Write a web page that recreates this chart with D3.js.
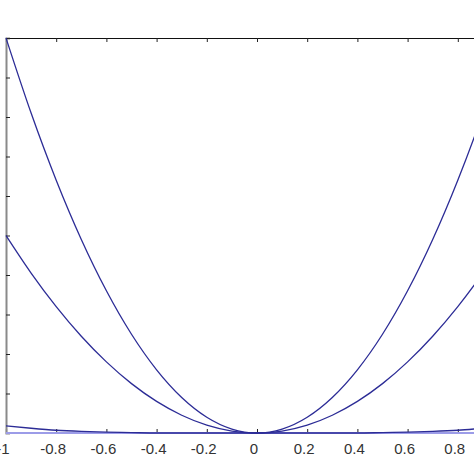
<!DOCTYPE html>
<html>
<head>
<meta charset="utf-8">
<script src="https://cdn.jsdelivr.net/npm/d3@7"></script>
<style>
  body { margin: 0; background: #fff; }
  svg { display: block; }
  .tick-label { font-family: "Liberation Sans", Arial, sans-serif; font-size: 15px; fill: #333; }
</style>
</head>
<body>
<svg id="chart" width="474" height="474"></svg>
<script>
// Data (x from -1 to 1 in steps of 0.1)
const xs = [-1, -0.9, -0.8, -0.7, -0.6, -0.5, -0.4, -0.3, -0.2, -0.1, 0,
            0.1, 0.2, 0.3, 0.4, 0.5, 0.6, 0.7, 0.8, 0.9, 1];
const upper = [10, 8.1, 6.4, 4.9, 3.6, 2.5, 1.6, 0.9, 0.4, 0.1, 0,
               0.1, 0.4, 0.9, 1.6, 2.5, 3.6, 4.9, 6.4, 8.1, 10];
const middle = [5, 4.05, 3.2, 2.45, 1.8, 1.25, 0.8, 0.45, 0.2, 0.05, 0,
                0.05, 0.2, 0.45, 0.8, 1.25, 1.8, 2.45, 3.2, 4.05, 5];
const lower = [0.18, 0.12, 0.07, 0.04, 0.02, 0.01, 0, 0, 0, 0, 0,
               0, 0, 0, 0, 0.01, 0.02, 0.04, 0.07, 0.12, 0.18];
const zero = xs.map(() => 0);
const xTicks = [-1, -0.8, -0.6, -0.4, -0.2, 0, 0.2, 0.4, 0.6, 0.8, 1];
const yTicks = [0, 1, 2, 3, 4, 5, 6, 7, 8, 9, 10];

const svg = d3.select("#chart");
const margin = { left: 6, top: 38, bottom: 433 };

const x = d3.scaleLinear().domain([-1, 1]).range([margin.left, 508]);
const y = d3.scaleLinear().domain([0, 10]).range([margin.bottom, margin.top]);

svg.append("rect").attr("width", 474).attr("height", 474).attr("fill", "#fff");

// top axis, ticks pointing inward
const topAxis = svg.append("g")
  .attr("transform", `translate(0, ${margin.top})`)
  .call(d3.axisTop(x).tickValues(xTicks).tickSize(-4).tickFormat(""));
topAxis.select(".domain").attr("stroke", "#111").attr("stroke-width", 1.2);
topAxis.selectAll(".tick line").attr("stroke", "#222");

// bottom axis, ticks pointing inward
const bottomAxis = svg.append("g")
  .attr("transform", `translate(0, ${margin.bottom})`)
  .call(d3.axisBottom(x).tickValues(xTicks).tickSize(-4).tickFormat(""));
bottomAxis.select(".domain").attr("stroke", "#111").attr("stroke-width", 1.2);
bottomAxis.selectAll(".tick line").attr("stroke", "#222");

// left axis
const leftAxis = svg.append("g")
  .attr("transform", `translate(${margin.left}, 0)`)
  .call(d3.axisLeft(y).tickValues(yTicks).tickSize(-4).tickFormat(""));
leftAxis.select(".domain").attr("stroke", "#8a8a8a").attr("stroke-width", 2);
leftAxis.selectAll(".tick line").attr("stroke", "#222");

// x tick labels
svg.append("g")
  .selectAll("text")
  .data(xTicks)
  .join("text")
  .attr("class", "tick-label")
  .attr("x", (d) => x(d) - 3)
  .attr("y", 454)
  .attr("text-anchor", "middle")
  .text((d) => String(d));

const line = d3.line()
  .x((d, i) => x(xs[i]))
  .y((d) => y(d))
  .curve(d3.curveMonotoneX);

// zero line (light blue) over the bottom axis
svg.append("path")
  .datum(zero)
  .attr("fill", "none")
  .attr("stroke", "#9c9ce8")
  .attr("stroke-width", 2.2)
  .attr("d", line);

[upper, middle, lower].forEach((s) => {
  svg.append("path")
    .datum(s)
    .attr("fill", "none")
    .attr("stroke", "#2c2c96")
    .attr("stroke-width", 1.3)
    .attr("d", line);
});
</script>
</body>
</html>
